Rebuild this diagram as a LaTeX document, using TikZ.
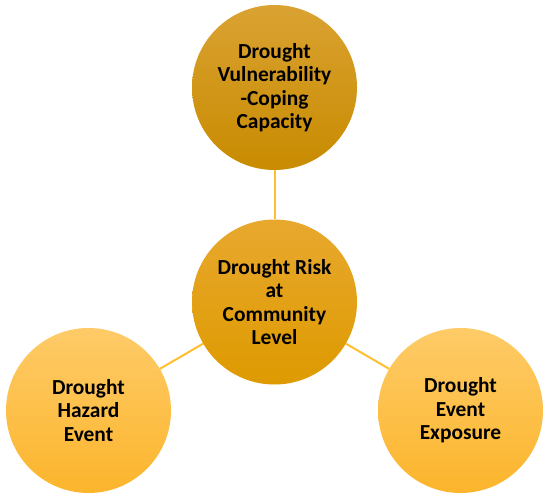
\documentclass[tikz,border=0pt]{standalone}
\usepackage{fontspec}
\setmainfont{Carlito}
\usepackage{tikz}

\definecolor{vulTop}{HTML}{DAA232}
\definecolor{vulBottom}{HTML}{C88B00}
\definecolor{riskTop}{HTML}{E8A82E}
\definecolor{riskBottom}{HTML}{DE9A00}
\definecolor{eventTop}{HTML}{FECB68}
\definecolor{eventBottom}{HTML}{FCB52C}
\definecolor{linkGold}{HTML}{FFBF30}

\begin{document}
\begin{tikzpicture}[x=1bp,y=-1bp]
		\useasboundingbox (0,0) rectangle (550,499);
		\begin{scope}
            [
                styleBubble/.style={
					circle, minimum size = 165bp, inner sep = 0pt,
					align = center, text = black,
					font = \fontsize{21.5}{23.5}\selectfont\bfseries
					},
				styleVul/.style={styleBubble, top color = vulTop, bottom color = vulBottom},
				styleRisk/.style={styleBubble, top color = riskTop, bottom color = riskBottom},
				styleEvent/.style={styleBubble, top color = eventTop, bottom color = eventBottom},
            ]
			\node(vul)[styleVul] at (274.5,87.5) {Drought\\Vulnerability\\-Coping\\Capacity};
			\node(risk)[styleRisk] at (274.5,302) {Drought Risk\\at\\Community\\Level};

			\node(hazard)[styleEvent] at (88.5,410.5) {Drought\\Hazard\\Event};
			\node(expo)[styleEvent] at (460.5,410.5) {Drought\\Event\\Exposure};
		\end{scope}
		\begin{scope}
            [linkGold, line width = 2bp]
            \path
			(vul) edge       (risk)
			(risk) edge      (hazard)
			(risk) edge      (expo);
		\end{scope}
    \end{tikzpicture}
\end{document}
